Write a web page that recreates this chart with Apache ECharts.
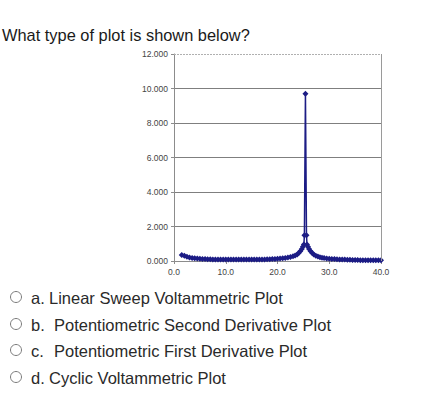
<!DOCTYPE html>
<html>
<head>
<meta charset="utf-8">
<script src="https://cdn.jsdelivr.net/npm/echarts@6/dist/echarts.min.js"></script>
<style>
  html, body { margin: 0; padding: 0; background: #fff; }
  #chart { width: 426px; height: 402px; }
</style>
</head>
<body>
<div id="chart"></div>
<script>
// ---- data ----
const volumeMl = [
    1.5, 2.0, 2.5, 3.0, 3.5, 4.0, 4.5, 5.0, 5.5, 6.0, 6.5, 7.0, 7.5, 8.0, 8.5, 9.0, 9.5, 10.0,
    10.5, 11.0, 11.5, 12.0, 12.5, 13.0, 13.5, 14.0, 14.5, 15.0, 15.5, 16.0, 16.5, 17.0, 17.5,
    18.0, 18.5, 19.0, 19.5, 20.0, 20.5, 21.0, 21.5, 22.0, 22.5, 23.0, 23.4, 23.8, 24.1, 24.4,
    24.7, 24.9, 25.1, 25.2, 25.4, 25.6, 25.7, 25.9, 26.1, 26.4, 26.7, 27.0, 27.4, 27.8, 28.2,
    28.6, 29.0, 29.5, 30.0, 30.5, 31.0, 31.5, 32.0, 32.5, 33.0, 33.5, 34.0, 34.5, 35.0, 35.5,
    36.0, 36.5, 37.0, 37.5, 38.0, 38.5, 39.0, 39.5, 40.0
];
const derivative = [
    0.35, 0.30, 0.25, 0.21, 0.18, 0.16, 0.14, 0.13, 0.12, 0.11, 0.10, 0.10, 0.09, 0.09, 0.09, 0.08, 0.08, 0.08,
    0.08, 0.08, 0.08, 0.08, 0.08, 0.08, 0.08, 0.08, 0.08, 0.08, 0.08, 0.08, 0.09, 0.09, 0.09,
    0.10, 0.10, 0.11, 0.12, 0.13, 0.14, 0.16, 0.18, 0.20, 0.23, 0.27, 0.32, 0.38, 0.46, 0.56,
    0.70, 0.82, 0.95, 1.50, 9.70, 1.50, 0.95, 0.82, 0.70, 0.56, 0.46, 0.38, 0.31, 0.26, 0.22,
    0.19, 0.17, 0.15, 0.13, 0.12, 0.11, 0.10, 0.09, 0.08, 0.08, 0.07, 0.07, 0.06, 0.06, 0.06,
    0.05, 0.05, 0.05, 0.05, 0.05, 0.05, 0.05, 0.05, 0.04
];
const yTicks = [0, 2, 4, 6, 8, 10, 12];
const xTicks = [0, 10, 20, 30, 40];

const questionText = 'What type of plot is shown below?';
const answerLetters = ['a.', 'b.', 'c.', 'd.'];
const answerTexts = [
    'Linear Sweep Voltammetric Plot',
    'Potentiometric Second Derivative Plot',
    'Potentiometric First Derivative Plot',
    'Cyclic Voltammetric Plot'
];

// ---- chart ----
const chart = echarts.init(document.getElementById('chart'), null, { renderer: 'svg' });

const points = volumeMl.map((v, i) => [v, derivative[i]]);

// question + radio answers
const answerTops = [298, 325, 351, 378];
const answerGaps = [49, 54, 54, 49];
const textFont = '"Liberation Sans", Arial, sans-serif';
const graphics = [{
    type: 'text',
    x: 2, y: 35,
    style: { text: questionText, font: '16.4px ' + textFont, fill: '#1a1a1a', verticalAlign: 'middle' }
}];
answerTexts.forEach((t, i) => {
    graphics.push({
        type: 'circle',
        shape: { cx: 16, cy: answerTops[i] - 1, r: 5.5 },
        style: { fill: '#fff', stroke: '#7a7a7a', lineWidth: 1 }
    });
    graphics.push({
        type: 'text',
        x: 31, y: answerTops[i],
        style: { text: answerLetters[i], font: '16.5px ' + textFont, fill: '#2a2a2a', verticalAlign: 'middle' }
    });
    graphics.push({
        type: 'text',
        x: answerGaps[i], y: answerTops[i],
        style: { text: t, font: '16.5px ' + textFont, fill: '#2a2a2a', verticalAlign: 'middle' }
    });
});

const labelFont = { fontFamily: textFont, fontSize: 8.5, color: '#444' };

chart.setOption({
    animation: false,
    grid: { left: 174, right: 45, top: 54, bottom: 141 },
    xAxis: {
        type: 'value',
        min: xTicks[0], max: xTicks[xTicks.length - 1], interval: 10,
        axisLine: { show: true, onZero: true, lineStyle: { color: '#8c8c8c', width: 1 } },
        axisTick: { show: true, length: 3, inside: false, lineStyle: { color: '#8c8c8c' } },
        axisLabel: Object.assign({ margin: 6, formatter: v => v.toFixed(1) }, labelFont),
        splitLine: { show: false }
    },
    yAxis: {
        type: 'value',
        min: yTicks[0], max: yTicks[yTicks.length - 1], interval: 2,
        axisLine: { show: true, lineStyle: { color: '#8c8c8c', width: 1 } },
        axisTick: { show: true, length: 3, lineStyle: { color: '#8c8c8c' } },
        axisLabel: Object.assign({ margin: 6, formatter: v => v.toFixed(3) }, labelFont),
        splitLine: { show: true, showMaxLine: false, lineStyle: { color: '#7f7f7f', width: 1 } }
    },
    series: [{
        type: 'line',
        data: points,
        symbol: 'diamond',
        symbolSize: 6,
        showAllSymbol: true,
        lineStyle: { color: '#1c1c85', width: 1.5 },
        itemStyle: { color: '#1c1c85' },
        markLine: {
            silent: true,
            symbol: 'none',
            label: { show: false },
            data: [
                { yAxis: 12, lineStyle: { color: '#b0b0b0', type: [2, 1], width: 1 } },
                { xAxis: 40, lineStyle: { color: '#9a9a9a', type: 'solid', width: 1 } }
            ]
        }
    }],
    graphic: graphics
});
</script>
</body>
</html>
